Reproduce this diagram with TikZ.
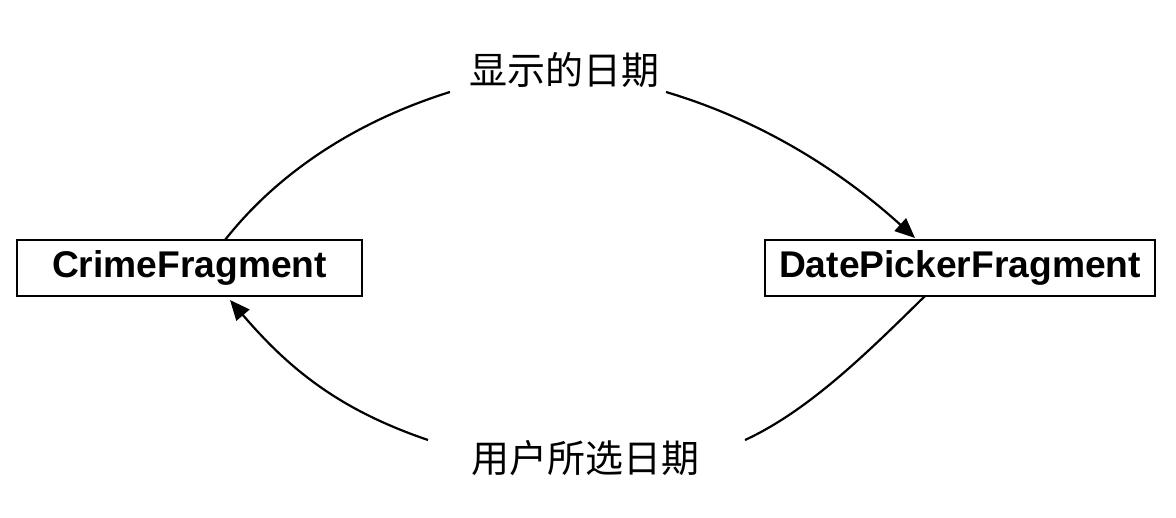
\documentclass[tikz,border=0pt]{standalone}
\usepackage{fontspec}
\setmainfont{Liberation Sans}
\newfontfamily\cjk{Noto Sans CJK SC}
\usetikzlibrary{arrows.meta}
\begin{document}
\begin{tikzpicture}[x=0.5pt,y=-0.5pt,
  frag/.style={draw,line width=1.3pt,minimum height=28pt,inner xsep=4pt,font=\bfseries\fontsize{18.6}{20}\selectfont},
  lbl/.style={font=\cjk\fontsize{19}{21}\selectfont,inner sep=4pt},
  conn/.style={line width=1.1pt,-{Triangle[length=10pt,width=8.5pt]}},
  plain/.style={line width=1.1pt}]
\useasboundingbox (0,0) rectangle (1176,518);
\node[frag,minimum width=172.5pt] (cf) at (189.5,268) {CrimeFragment};
\node[frag,minimum width=195pt] (dp) at (960,268) {DatePickerFragment};
\node[lbl] (top) at (564,70) {显示的日期};
\node[lbl] (bot) at (585,458) {用户所选日期};
\coordinate (t1) at (450,92);
\coordinate (t2) at (666,92);
\coordinate (b1) at (745,440);
\coordinate (b2) at (428,440);
\draw[plain] (225,240) .. controls (280,170) and (360,120) .. (t1);
\draw[conn] (t2) .. controls (760,120) and (840,170) .. (915,238);
\draw[plain] (925,296) .. controls (870,350) and (810,410) .. (b1);
\draw[conn] (b2) .. controls (340,410) and (290,370) .. (230,300);
\end{tikzpicture}
\end{document}
